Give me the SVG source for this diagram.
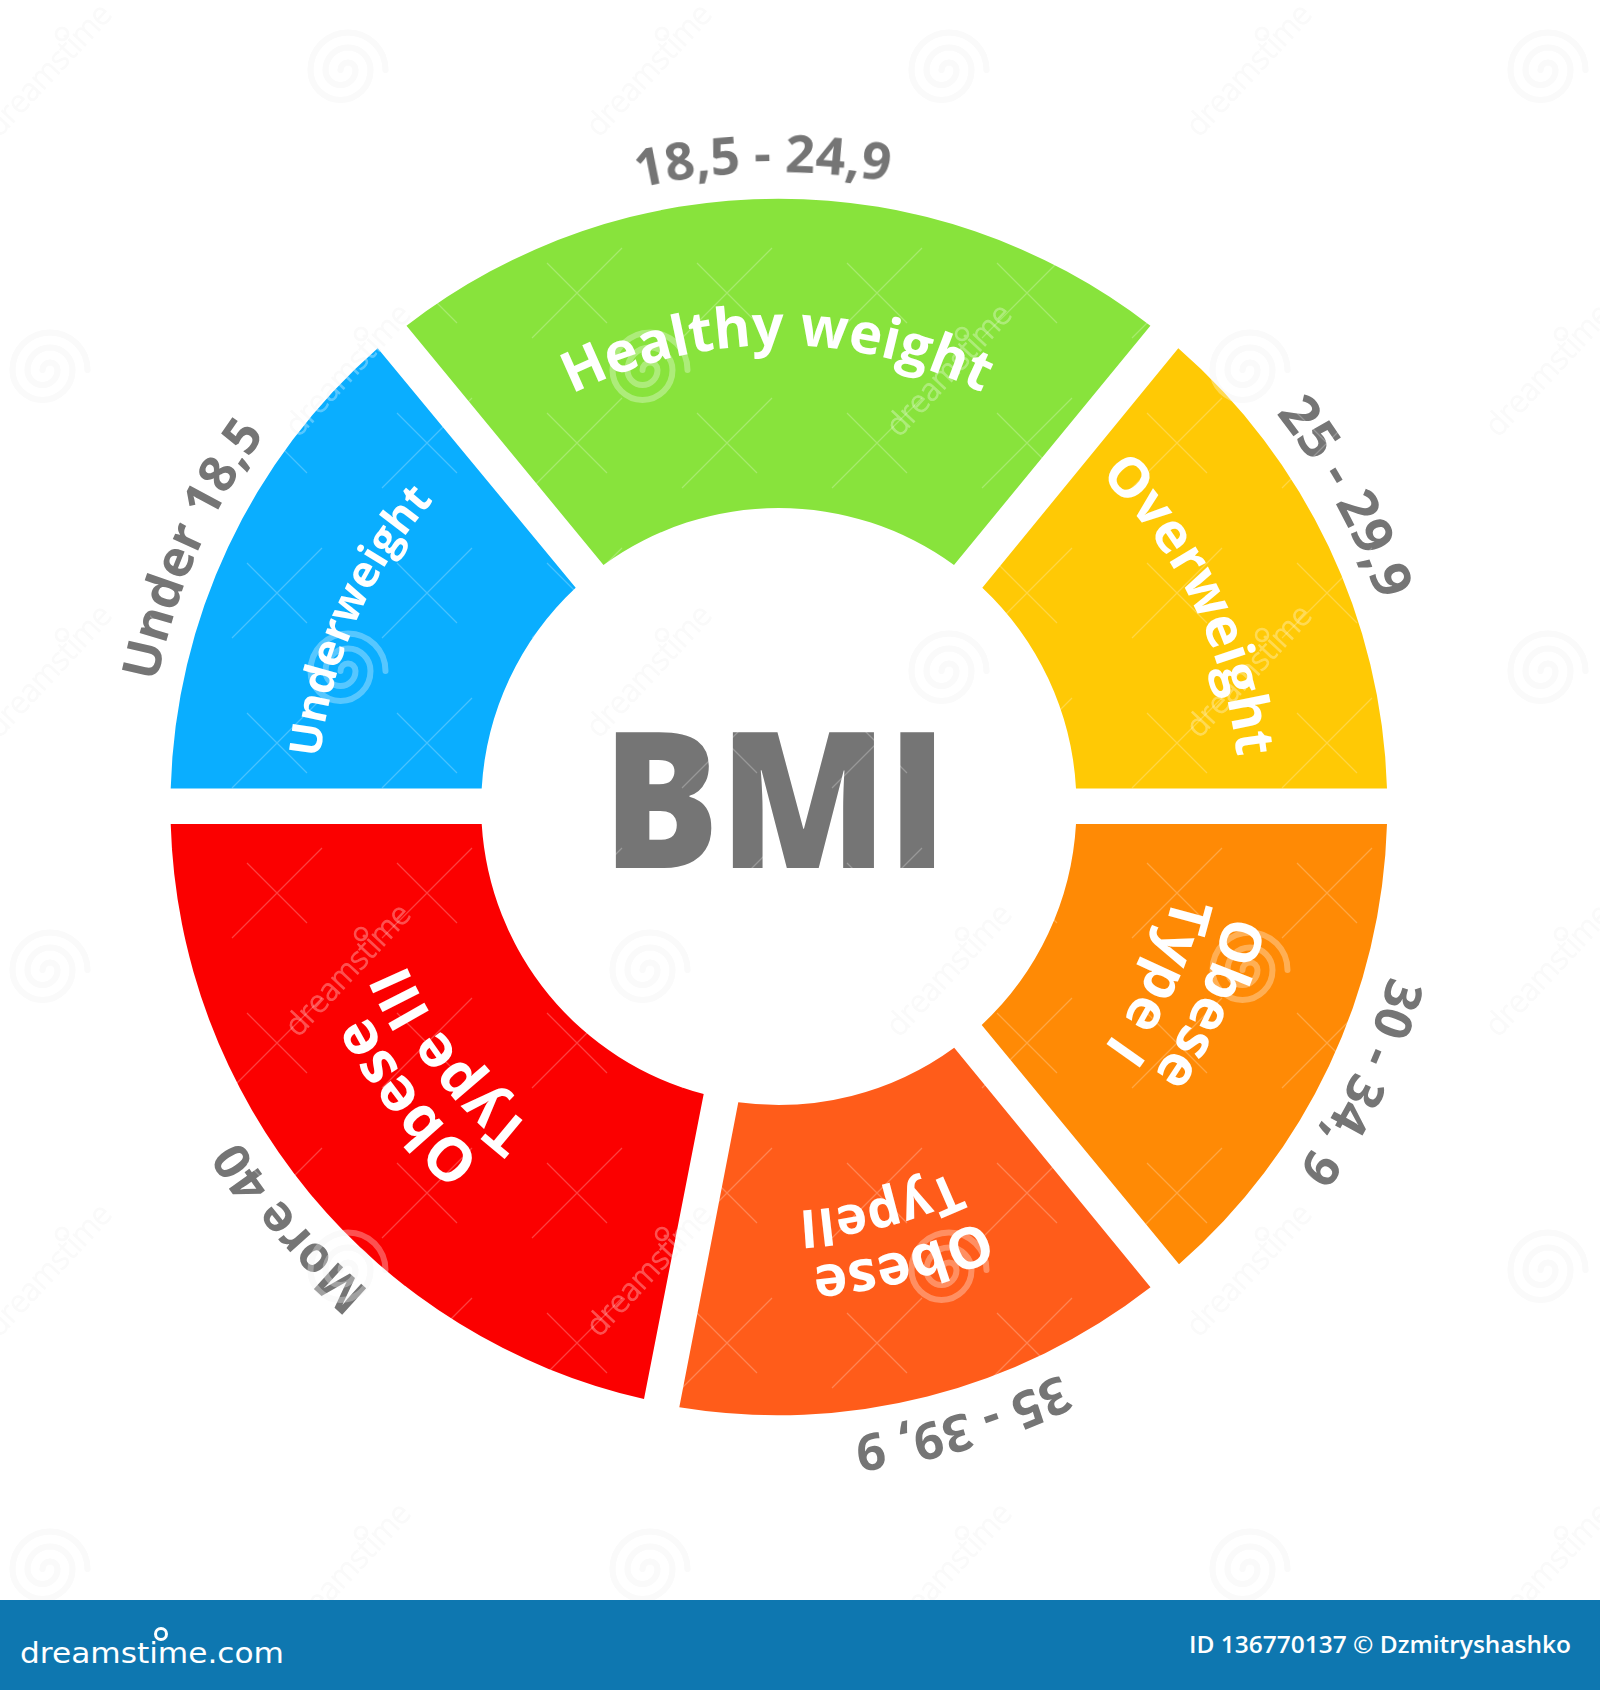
<svg xmlns="http://www.w3.org/2000/svg" xmlns:xlink="http://www.w3.org/1999/xlink" width="1600" height="1690" viewBox="0 0 1600 1690">
<style>
text{font-family:"Open Sans","Liberation Sans",sans-serif;font-weight:700}
.out{fill:#757575;font-size:50px;text-anchor:middle}
.in{fill:#fff;font-size:57px;text-anchor:middle}
.wm{font-family:"Open Sans","Liberation Sans",sans-serif;font-weight:300;font-size:31px;text-anchor:middle}
.band{fill:#fff}
</style>
<defs>
<path id="r634" d="M778.5,1440.25A634,634 0 1 1 778.5,172.25A634,634 0 1 1 778.5,1440.25"/>
<path id="r461" d="M778.5,1267.25A461,461 0 1 1 778.5,345.25A461,461 0 1 1 778.5,1267.25"/>
<path id="r405" d="M778.5,1211.25A405,405 0 1 1 778.5,401.25A405,405 0 1 1 778.5,1211.25"/>
<path id="sp" fill="none" stroke-width="6" stroke-linecap="round" d="M-7.5,0A7.5,7.5 0 0 1 7.5,0A15,15 0 0 1 -22.5,0A22.5,22.5 0 0 1 22.5,0A30,30 0 0 1 -37.5,0A37.5,37.5 0 0 1 37.5,0"/>
<g id="wmt"><text class="wm" style="fill:inherit" transform="rotate(-47)" y="10">dreamstime</text><circle cx="13" cy="-36" r="6" fill="none" stroke-width="2.5"/></g>
<g id="marks">
<use href="#sp" x="348" y="70"/><use href="#sp" x="949" y="70"/><use href="#sp" x="1548" y="70"/>
<use href="#sp" x="50" y="370"/><use href="#sp" x="650" y="370"/><use href="#sp" x="1250" y="370"/>
<use href="#sp" x="348" y="671"/><use href="#sp" x="949" y="671"/><use href="#sp" x="1548" y="671"/>
<use href="#sp" x="50" y="970"/><use href="#sp" x="650" y="970"/><use href="#sp" x="1250" y="970"/>
<use href="#sp" x="348" y="1270"/><use href="#sp" x="949" y="1270"/><use href="#sp" x="1548" y="1270"/>
<use href="#sp" x="50" y="1569"/><use href="#sp" x="650" y="1569"/><use href="#sp" x="1250" y="1569"/>
<use href="#wmt" x="49" y="70"/><use href="#wmt" x="649" y="70"/><use href="#wmt" x="1249" y="70"/>
<use href="#wmt" x="348" y="370"/><use href="#wmt" x="949" y="370"/><use href="#wmt" x="1548" y="370"/>
<use href="#wmt" x="49" y="671"/><use href="#wmt" x="649" y="671"/><use href="#wmt" x="1249" y="671"/>
<use href="#wmt" x="348" y="970"/><use href="#wmt" x="949" y="970"/><use href="#wmt" x="1548" y="970"/>
<use href="#wmt" x="49" y="1270"/><use href="#wmt" x="649" y="1270"/><use href="#wmt" x="1249" y="1270"/>
<use href="#wmt" x="348" y="1569"/><use href="#wmt" x="949" y="1569"/><use href="#wmt" x="1548" y="1569"/>
</g>
<pattern id="cross" patternUnits="userSpaceOnUse" x="352" y="368" width="150" height="150">
<path d="M30,120L120,30M45,45L105,105" stroke="#fff" stroke-opacity=".25" stroke-width="1.2" fill="none"/>
</pattern>
</defs>
<rect width="1600" height="1690" fill="#fff"/>
<g id="watermark-base" fill="#000" stroke="#000" opacity=".03"><use href="#marks"/></g>

<g id="underweight">
<path fill="#0aaeff" d="M170.7,788.5A608,608 0 0 1 377.7,348.3L575.7,587.7A298,298 0 0 0 481.7,788.5Z"/>
<text class="in" style="font-size:44px" transform="rotate(-66.2 778.5 806.25)"><textPath href="#r461" startOffset="50%">Underweight</textPath></text>
<text class="out" style="font-size:51px" transform="rotate(-66.4 778.5 806.25)"><textPath href="#r634" startOffset="50%">Under 18,5</textPath></text>
</g>
<g id="healthy">
<path fill="#88e33c" d="M406.5,325.7A608,608 0 0 1 1150.4,325.7L954,565A298,298 0 0 0 603.5,565Z"/>
<text class="in" style="font-size:56px" transform="rotate(-.2 778.5 806.25)"><textPath href="#r461" startOffset="50%">Healthy weight</textPath></text>
<text class="out" style="font-size:52px" transform="rotate(-1.4 778.5 806.25)"><textPath href="#r634" startOffset="50%">18,5 - 24,9</textPath></text>
</g>
<g id="overweight">
<path fill="#ffc905" d="M1178.3,348.3A608,608 0 0 1 1387,788.5L1076,788.5A298,298 0 0 0 982.3,587.7Z"/>
<text class="in" style="font-size:55px" transform="rotate(64 778.5 806.25)"><textPath href="#r461" startOffset="50%">Overweight</textPath></text>
<text class="out" style="font-size:54px" transform="rotate(61.4 778.5 806.25)"><textPath href="#r634" startOffset="50%">25 - 29,9</textPath></text>
</g>
<g id="obese-1">
<path fill="#ff8a05" d="M1387,824A608,608 0 0 1 1179,1264.3L981.7,1025A298,298 0 0 0 1076,824Z"/>
<text class="in" transform="rotate(114.6 778.5 806.25)"><textPath href="#r461" startOffset="50%">Obese</textPath></text>
<text class="in" transform="rotate(114.7 778.5 806.25)"><textPath href="#r405" startOffset="50%">Type I</textPath></text>
<text class="out" style="font-size:51px" transform="rotate(115.3 778.5 806.25)"><textPath href="#r634" startOffset="50%">30 - 34, 9</textPath></text>
</g>
<g id="obese-2">
<path fill="#ff5c1a" d="M1150.5,1287.3A608,608 0 0 1 679.3,1407.3L738.3,1102.3A298,298 0 0 0 954.2,1047.7Z"/>
<text class="in" transform="rotate(164.8 778.5 806.25)"><textPath href="#r461" startOffset="50%">Obese</textPath></text>
<text class="in" style="font-size:53px" transform="rotate(165.8 778.5 806.25)"><textPath href="#r405" startOffset="50%">TypeII</textPath></text>
<text class="out" style="font-size:51px" transform="rotate(163.4 778.5 806.25)"><textPath href="#r634" startOffset="50%">35 - 39, 9</textPath></text>
</g>
<g id="obese-3">
<path fill="#fb0000" d="M644,1399A608,608 0 0 1 170.7,824L481.7,824A298,298 0 0 0 703.7,1094Z"/>
<text class="in" style="font-size:60px" transform="rotate(231.6 778.5 806.25)"><textPath href="#r461" startOffset="50%">Obese</textPath></text>
<text class="in" style="font-size:58px" transform="rotate(232.3 778.5 806.25)"><textPath href="#r405" startOffset="50%">Type III</textPath></text>
<text class="out" transform="rotate(229.2 778.5 806.25)"><textPath href="#r634" startOffset="50%">More 40</textPath></text>
</g>
<g id="center"><text x="602.5" y="868" textLength="345" lengthAdjust="spacingAndGlyphs" fill="#757575" style="font-weight:800;font-size:189px">BMI</text></g>

<g id="watermark-top">
<rect x="150" y="180" width="1260" height="1240" fill="url(#cross)"/>
<g fill="#fff" stroke="#fff" opacity=".32"><use href="#marks"/></g>
</g>

<g id="footer">
<rect y="1600" width="1600" height="90" fill="#0e77b0"/>
<text class="band" x="20" y="1663" textLength="264" lengthAdjust="spacingAndGlyphs" style="font-family:'DejaVu Sans',sans-serif;font-weight:400;font-size:29px">dreamstime.com</text>
<circle cx="161" cy="1634" r="5.5" fill="none" stroke="#fff" stroke-width="3"/>
<text class="band" x="1189" y="1653" textLength="382" lengthAdjust="spacingAndGlyphs" style="font-weight:600;font-size:23px">ID 136770137 © Dzmitryshashko</text>
</g>
</svg>
